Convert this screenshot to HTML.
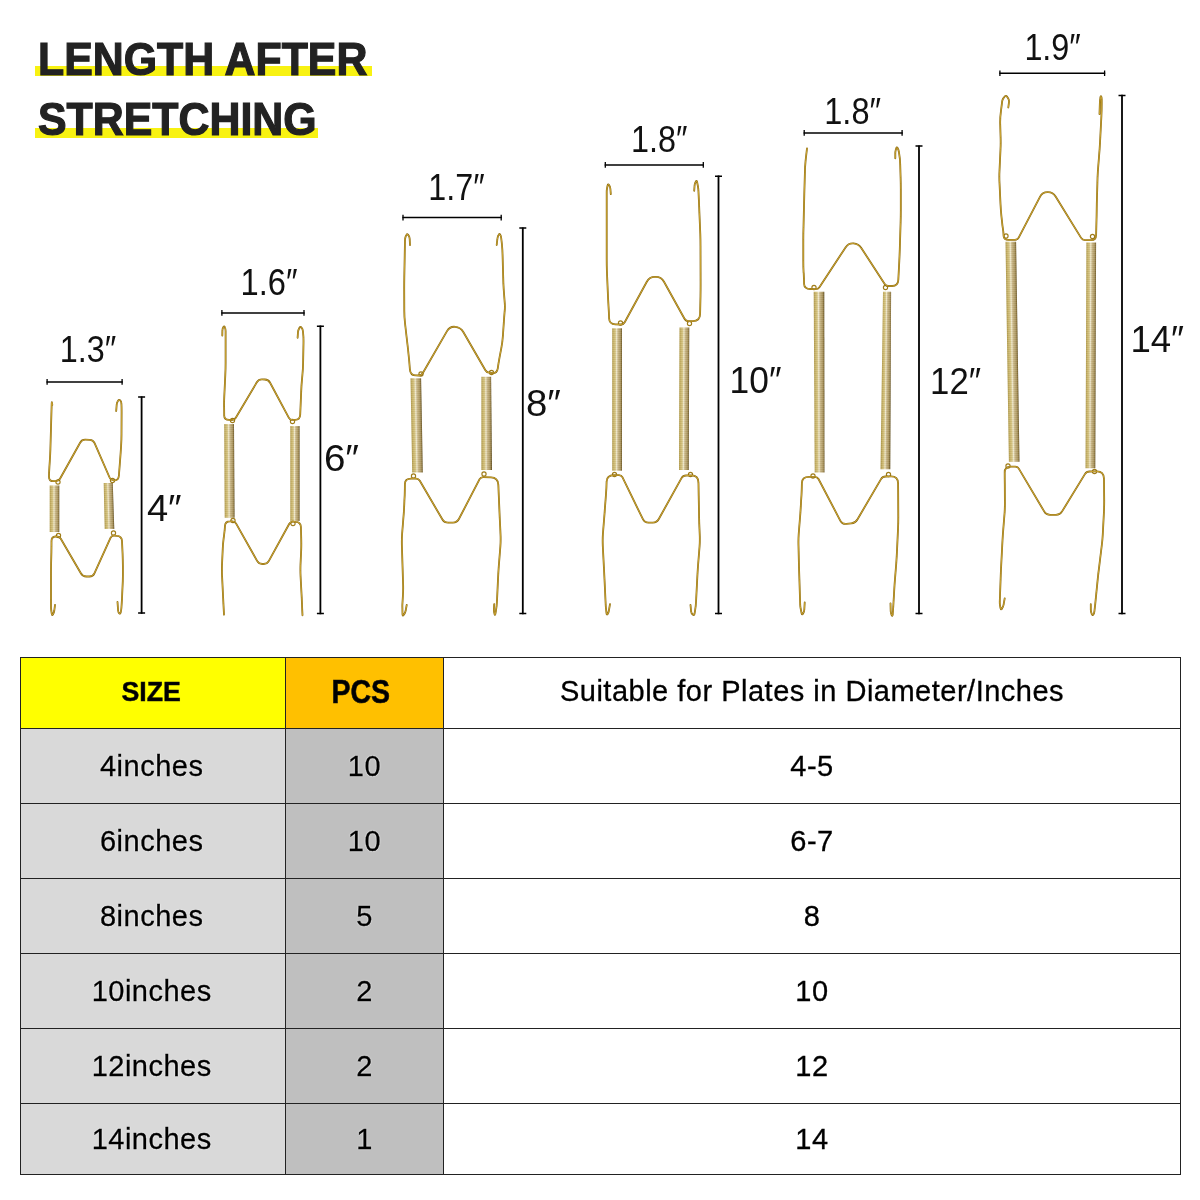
<!DOCTYPE html>
<html lang="en">
<head>
<meta charset="utf-8">
<title>Length After Stretching</title>
<style>
html,body{margin:0;padding:0;background:#fff;}
body{width:1200px;height:1200px;position:relative;overflow:hidden;font-family:"Liberation Sans",sans-serif;color:#111;}
#stage{position:absolute;left:0;top:0;width:1200px;height:1200px;}
.hl{position:absolute;background:#f8f212;}
.title{position:absolute;left:38px;transform:scaleX(0.912);margin:0;font-weight:bold;font-size:47px;line-height:1;color:#222;white-space:nowrap;transform-origin:0 0;-webkit-text-stroke:1.2px #222;}
svg#art{position:absolute;left:0;top:0;}
svg#art text{font-family:"Liberation Sans",sans-serif;fill:#111;}
table#t{position:absolute;left:20px;top:657px;width:1161px;border-collapse:collapse;table-layout:fixed;}
#t td,#t th{border:1px solid #222;padding:0;text-align:center;vertical-align:middle;font-weight:normal;font-size:29px;letter-spacing:.5px;color:#000;-webkit-text-stroke:.3px #000;height:74px;line-height:32px;}
#t tr.h th{height:70px;}
#t tr.last td{height:70px;}
#t td span,#t th span{display:inline-block;position:relative;}
#t .c1{background:#d9d9d9;text-shadow:0 0 1px #fff,0 0 2px #fff;}
#t .c1 span{left:-1.3px;}
#t .c2{background:#bfbfbf;text-shadow:0 0 1px #fff,0 0 2px #fff;}
#t th.s{background:#ffff00;font-weight:bold;font-size:28px;letter-spacing:0;}
#t th.s span{transform:scaleX(.955);-webkit-text-stroke:.5px #111;top:-1.5px;left:-1.4px;}
#t th.p{background:#ffc000;font-weight:bold;font-size:32.8px;letter-spacing:0;}
#t th.p span{transform:scaleX(.87);-webkit-text-stroke:.6px #111;top:-.7px;left:-3.3px;}
#t th.d span{top:-2px;}
</style>
</head>
<body>
<div id="stage">
<div class="hl" style="left:35px;top:66px;width:337px;height:10px"></div>
<div class="hl" style="left:35px;top:128px;width:283px;height:10px"></div>
<h1 class="title" id="t1" style="top:34.8px">LENGTH AFTER</h1>
<h1 class="title" id="t2" style="top:94.7px">STRETCHING</h1>

<svg id="art" width="1200" height="650" viewBox="0 0 1200 650">
<defs>
<linearGradient id="sg" x1="0" x2="1" y1="0" y2="0"><stop offset="0" stop-color="#b09a4c"/><stop offset="0.14" stop-color="#c9b46a"/><stop offset="0.32" stop-color="#d6c584"/><stop offset="0.45" stop-color="#efe8cc"/><stop offset="0.58" stop-color="#cbb98a"/><stop offset="0.84" stop-color="#ab9660"/><stop offset="0.93" stop-color="#8a7440"/><stop offset="1" stop-color="#5e4c1c"/></linearGradient>
<pattern id="hatch" width="4" height="2" patternUnits="userSpaceOnUse"><rect x="0" y="0" width="4" height="1" fill="#fff" opacity="0.07"/><rect x="0" y="1" width="4" height="1" fill="#6b5a20" opacity="0.06"/></pattern>
</defs>
<g id="dims" stroke="#000" fill="none"><path d="M46.5 381.9H122.7" stroke-width="1.5"/><path d="M47.1 379.1V384.7M122.1 379.1V384.7" stroke-width="1.3"/><path d="M141.6 396.4V613.8" stroke-width="1.8"/><path d="M138.1 397.1H145.1M138.1 613.1H145.1" stroke-width="1.5"/><path d="M221.3 312.9H304.6" stroke-width="1.5"/><path d="M221.9 310.1V315.7M304.0 310.1V315.7" stroke-width="1.3"/><path d="M320.4 325.5V614.2" stroke-width="1.8"/><path d="M316.9 326.2H323.9M316.9 613.5H323.9" stroke-width="1.5"/><path d="M402.4 217.6H501.8" stroke-width="1.5"/><path d="M403.0 214.8V220.4M501.2 214.8V220.4" stroke-width="1.3"/><path d="M522.8 227.4V614.2" stroke-width="1.8"/><path d="M519.3 228.1H526.3M519.3 613.5H526.3" stroke-width="1.5"/><path d="M604.7 164.9H703.9" stroke-width="1.5"/><path d="M605.3 162.1V167.7M703.3 162.1V167.7" stroke-width="1.3"/><path d="M718.5 175.5V614.2" stroke-width="1.8"/><path d="M715.0 176.2H722.0M715.0 613.5H722.0" stroke-width="1.5"/><path d="M803.6 132.9H902.7" stroke-width="1.5"/><path d="M804.2 130.1V135.7M902.1 130.1V135.7" stroke-width="1.3"/><path d="M919.0 145.4V614.2" stroke-width="1.8"/><path d="M915.5 146.1H922.5M915.5 613.5H922.5" stroke-width="1.5"/><path d="M999.3 73.2H1105.2" stroke-width="1.5"/><path d="M999.9 70.4V76.0M1104.6 70.4V76.0" stroke-width="1.3"/><path d="M1122.0 94.7V614.2" stroke-width="1.8"/><path d="M1118.5 95.4H1125.5M1118.5 613.5H1125.5" stroke-width="1.5"/></g>
<g id="labels"><text x="59.7" y="361.9" font-size="36" textLength="56.4" lengthAdjust="spacingAndGlyphs">1.3″</text><text x="240.6" y="294.7" font-size="36" textLength="57.0" lengthAdjust="spacingAndGlyphs">1.6″</text><text x="428.3" y="199.6" font-size="36" textLength="56.3" lengthAdjust="spacingAndGlyphs">1.7″</text><text x="631.0" y="151.6" font-size="36" textLength="56.4" lengthAdjust="spacingAndGlyphs">1.8″</text><text x="824.3" y="124.0" font-size="36" textLength="56.7" lengthAdjust="spacingAndGlyphs">1.8″</text><text x="1024.4" y="59.7" font-size="36" textLength="56.4" lengthAdjust="spacingAndGlyphs">1.9″</text><text x="146.9" y="521.4" font-size="36" textLength="34.7" lengthAdjust="spacingAndGlyphs">4″</text><text x="323.9" y="471.4" font-size="36" textLength="35.1" lengthAdjust="spacingAndGlyphs">6″</text><text x="525.9" y="416.1" font-size="36" textLength="34.9" lengthAdjust="spacingAndGlyphs">8″</text><text x="729.6" y="393.2" font-size="36" textLength="51.8" lengthAdjust="spacingAndGlyphs">10″</text><text x="930.1" y="393.8" font-size="36" textLength="50.9" lengthAdjust="spacingAndGlyphs">12″</text><text x="1130.4" y="352.0" font-size="36" textLength="53.6" lengthAdjust="spacingAndGlyphs">14″</text></g>
<defs><linearGradient id="sg1_0" href="#sg" gradientUnits="userSpaceOnUse" x1="49.70" y1="508.75" x2="59.30" y2="508.75"/><linearGradient id="sg1_1" href="#sg" gradientUnits="userSpaceOnUse" x1="104.20" y1="506.13" x2="113.55" y2="505.87"/><linearGradient id="sg2_0" href="#sg" gradientUnits="userSpaceOnUse" x1="224.45" y1="470.88" x2="234.30" y2="470.82"/><linearGradient id="sg2_1" href="#sg" gradientUnits="userSpaceOnUse" x1="290.30" y1="473.50" x2="299.60" y2="473.50"/><linearGradient id="sg3_0" href="#sg" gradientUnits="userSpaceOnUse" x1="411.35" y1="425.50" x2="421.95" y2="425.30"/><linearGradient id="sg3_1" href="#sg" gradientUnits="userSpaceOnUse" x1="481.40" y1="423.37" x2="491.55" y2="423.33"/><linearGradient id="sg4_0" href="#sg" gradientUnits="userSpaceOnUse" x1="612.20" y1="399.55" x2="622.00" y2="399.55"/><linearGradient id="sg4_1" href="#sg" gradientUnits="userSpaceOnUse" x1="679.25" y1="398.73" x2="689.05" y2="398.77"/><linearGradient id="sg5_0" href="#sg" gradientUnits="userSpaceOnUse" x1="814.20" y1="382.12" x2="824.40" y2="382.08"/><linearGradient id="sg5_1" href="#sg" gradientUnits="userSpaceOnUse" x1="881.75" y1="380.41" x2="890.70" y2="380.49"/><linearGradient id="sg6_0" href="#sg" gradientUnits="userSpaceOnUse" x1="1007.20" y1="351.78" x2="1017.80" y2="351.62"/><linearGradient id="sg6_1" href="#sg" gradientUnits="userSpaceOnUse" x1="1085.95" y1="355.38" x2="1095.70" y2="355.42"/></defs>
<g id="hangers"><path d="M49.7 485.5L59.3 485.5Q59.3 508.8 59.3 532.0L49.7 532.0Q49.7 508.8 49.7 485.5Z" fill="url(#sg1_0)"/><path d="M49.7 485.5L59.3 485.5Q59.3 508.8 59.3 532.0L49.7 532.0Q49.7 508.8 49.7 485.5Z" fill="url(#hatch)"/><path d="M103.7 483.0L112.8 483.0Q113.5 506.0 114.3 529.0L104.7 529.0Q104.2 506.0 103.7 483.0Z" fill="url(#sg1_1)"/><path d="M103.7 483.0L112.8 483.0Q113.5 506.0 114.3 529.0L104.7 529.0Q104.2 506.0 103.7 483.0Z" fill="url(#hatch)"/><circle cx="58.0" cy="482.0" r="2.1" fill="none" stroke="#a07d1a" stroke-width="1.15"/><circle cx="112.5" cy="480.5" r="2.1" fill="none" stroke="#a07d1a" stroke-width="1.15"/><circle cx="58.5" cy="535.5" r="2.1" fill="none" stroke="#a07d1a" stroke-width="1.15"/><circle cx="113.5" cy="533.0" r="2.1" fill="none" stroke="#a07d1a" stroke-width="1.15"/><path d="M52.3 405.0L52.0 403.1Q51.8 401.3 51.7 403.3L50.4 449.0Q50.2 455.0 49.8 461.0L49.4 467.0Q49.0 473.0 49.0 477.1L49.0 477.1Q49.0 481.3 53.5 481.2L56.3 481.1Q58.8 481.0 60.0 478.8L80.1 442.7Q81.8 439.6 85.3 439.7L89.7 439.8Q93.2 439.9 94.6 443.1L109.8 478.0Q110.8 480.3 113.3 480.4L114.7 480.4Q118.5 480.5 118.9 475.5L119.8 464.0Q120.3 458.0 120.7 452.0L121.1 446.0Q121.5 440.0 121.5 434.0L121.6 412.0Q121.6 406.0 121.4 403.8L121.4 403.5Q121.3 401.5 120.2 400.4L120.2 400.4Q119.0 399.2 117.9 400.9L117.9 400.9Q116.8 402.5 116.7 404.5L116.2 411.0" fill="none" stroke="#86640a" stroke-width="1.8" stroke-linecap="round" stroke-linejoin="round"/><path d="M52.3 405.0L52.0 403.1Q51.8 401.3 51.7 403.3L50.4 449.0Q50.2 455.0 49.8 461.0L49.4 467.0Q49.0 473.0 49.0 477.1L49.0 477.1Q49.0 481.3 53.5 481.2L56.3 481.1Q58.8 481.0 60.0 478.8L80.1 442.7Q81.8 439.6 85.3 439.7L89.7 439.8Q93.2 439.9 94.6 443.1L109.8 478.0Q110.8 480.3 113.3 480.4L114.7 480.4Q118.5 480.5 118.9 475.5L119.8 464.0Q120.3 458.0 120.7 452.0L121.1 446.0Q121.5 440.0 121.5 434.0L121.6 412.0Q121.6 406.0 121.4 403.8L121.4 403.5Q121.3 401.5 120.2 400.4L120.2 400.4Q119.0 399.2 117.9 400.9L117.9 400.9Q116.8 402.5 116.7 404.5L116.2 411.0" fill="none" stroke="#e0ba42" stroke-width="0.75" stroke-linecap="round" stroke-linejoin="round"/><path d="M55.0 605.0L54.3 610.5Q54.0 612.5 53.0 614.2L53.0 614.3Q52.0 616.0 51.8 614.0L51.2 610.0Q51.0 608.0 51.0 606.0L51.0 604.0Q51.0 600.0 51.0 594.0L51.0 576.0Q51.0 570.0 51.1 564.0L51.4 552.0Q51.5 546.0 51.5 541.3L51.5 541.1Q51.5 536.6 55.5 536.5L57.0 536.5Q59.5 536.5 60.8 538.7L81.0 573.5Q82.8 576.5 86.3 576.5L89.5 576.5Q93.0 576.5 94.4 573.3L110.5 537.8Q111.5 535.5 114.0 535.6L116.8 535.8Q121.8 536.0 122.0 541.0L122.6 554.0Q122.8 560.0 122.9 566.0L122.9 569.0Q123.0 575.0 122.8 581.0L122.2 594.0Q122.0 600.0 121.6 605.0L121.4 608.0Q121.2 610.0 120.8 612.0L120.7 612.3Q120.3 614.3 119.3 613.4L119.3 613.4Q118.3 612.5 118.1 610.5L117.5 602.0" fill="none" stroke="#86640a" stroke-width="1.8" stroke-linecap="round" stroke-linejoin="round"/><path d="M55.0 605.0L54.3 610.5Q54.0 612.5 53.0 614.2L53.0 614.3Q52.0 616.0 51.8 614.0L51.2 610.0Q51.0 608.0 51.0 606.0L51.0 604.0Q51.0 600.0 51.0 594.0L51.0 576.0Q51.0 570.0 51.1 564.0L51.4 552.0Q51.5 546.0 51.5 541.3L51.5 541.1Q51.5 536.6 55.5 536.5L57.0 536.5Q59.5 536.5 60.8 538.7L81.0 573.5Q82.8 576.5 86.3 576.5L89.5 576.5Q93.0 576.5 94.4 573.3L110.5 537.8Q111.5 535.5 114.0 535.6L116.8 535.8Q121.8 536.0 122.0 541.0L122.6 554.0Q122.8 560.0 122.9 566.0L122.9 569.0Q123.0 575.0 122.8 581.0L122.2 594.0Q122.0 600.0 121.6 605.0L121.4 608.0Q121.2 610.0 120.8 612.0L120.7 612.3Q120.3 614.3 119.3 613.4L119.3 613.4Q118.3 612.5 118.1 610.5L117.5 602.0" fill="none" stroke="#e0ba42" stroke-width="0.75" stroke-linecap="round" stroke-linejoin="round"/><path d="M224.2 423.9L234.0 423.9Q234.3 470.8 234.6 517.8L224.7 517.8Q224.4 470.8 224.2 423.9Z" fill="url(#sg2_0)"/><path d="M224.2 423.9L234.0 423.9Q234.3 470.8 234.6 517.8L224.7 517.8Q224.4 470.8 224.2 423.9Z" fill="url(#hatch)"/><path d="M290.3 426.0L299.6 426.0Q299.6 473.5 299.6 521.0L290.3 521.0Q290.3 473.5 290.3 426.0Z" fill="url(#sg2_1)"/><path d="M290.3 426.0L299.6 426.0Q299.6 473.5 299.6 521.0L290.3 521.0Q290.3 473.5 290.3 426.0Z" fill="url(#hatch)"/><circle cx="232.5" cy="420.5" r="2.1" fill="none" stroke="#a07d1a" stroke-width="1.15"/><circle cx="292.5" cy="421.5" r="2.1" fill="none" stroke="#a07d1a" stroke-width="1.15"/><circle cx="233.0" cy="520.5" r="2.1" fill="none" stroke="#a07d1a" stroke-width="1.15"/><circle cx="293.0" cy="523.5" r="2.1" fill="none" stroke="#a07d1a" stroke-width="1.15"/><path d="M222.3 335.6L222.4 330.5Q222.5 328.5 223.4 327.1L223.4 327.1Q224.3 325.6 224.9 327.3L224.9 327.3Q225.6 329.0 225.6 331.0L225.6 363.0Q225.6 369.0 225.3 375.0L224.3 396.0Q224.0 402.0 224.1 406.5L224.1 406.5Q224.2 411.0 224.2 415.4L224.2 415.4Q224.2 419.8 229.2 419.9L232.0 420.0Q234.5 420.0 235.8 417.8L256.8 382.3Q258.6 379.3 262.1 379.4L264.9 379.5Q268.4 379.6 270.1 382.7L288.9 417.8Q290.1 420.0 292.6 419.9L295.1 419.9Q300.0 419.8 300.2 414.8L301.2 391.4Q301.4 385.4 302.0 379.4L302.4 375.0Q303.0 369.0 303.1 363.0L303.5 343.0Q303.6 337.0 303.1 333.0L302.9 331.0Q302.7 329.0 301.5 327.6L301.5 327.6Q300.3 326.2 299.3 328.0L299.2 328.2Q298.2 330.0 298.0 332.0L297.6 337.8" fill="none" stroke="#86640a" stroke-width="1.8" stroke-linecap="round" stroke-linejoin="round"/><path d="M222.3 335.6L222.4 330.5Q222.5 328.5 223.4 327.1L223.4 327.1Q224.3 325.6 224.9 327.3L224.9 327.3Q225.6 329.0 225.6 331.0L225.6 363.0Q225.6 369.0 225.3 375.0L224.3 396.0Q224.0 402.0 224.1 406.5L224.1 406.5Q224.2 411.0 224.2 415.4L224.2 415.4Q224.2 419.8 229.2 419.9L232.0 420.0Q234.5 420.0 235.8 417.8L256.8 382.3Q258.6 379.3 262.1 379.4L264.9 379.5Q268.4 379.6 270.1 382.7L288.9 417.8Q290.1 420.0 292.6 419.9L295.1 419.9Q300.0 419.8 300.2 414.8L301.2 391.4Q301.4 385.4 302.0 379.4L302.4 375.0Q303.0 369.0 303.1 363.0L303.5 343.0Q303.6 337.0 303.1 333.0L302.9 331.0Q302.7 329.0 301.5 327.6L301.5 327.6Q300.3 326.2 299.3 328.0L299.2 328.2Q298.2 330.0 298.0 332.0L297.6 337.8" fill="none" stroke="#e0ba42" stroke-width="0.75" stroke-linecap="round" stroke-linejoin="round"/><path d="M224.0 614.7L223.7 609.0Q223.4 603.3 223.1 597.3L222.1 576.8Q221.8 570.8 222.0 564.8L222.7 549.8Q222.9 543.8 223.7 537.9L224.0 535.9Q224.8 530.0 225.0 525.8L225.0 525.8Q225.2 521.5 230.0 521.4L232.3 521.3Q234.8 521.2 236.0 523.4L257.1 560.9Q258.8 564.0 262.3 564.0L263.7 564.0Q267.2 564.0 268.9 560.9L289.3 523.7Q290.5 521.5 293.0 521.6L295.8 521.8Q300.8 522.0 300.9 527.0L301.2 537.8Q301.4 543.8 301.2 549.8L300.5 564.8Q300.3 570.8 300.6 576.8L301.7 597.3Q302.0 603.3 302.2 609.3L302.5 615.3" fill="none" stroke="#86640a" stroke-width="1.8" stroke-linecap="round" stroke-linejoin="round"/><path d="M224.0 614.7L223.7 609.0Q223.4 603.3 223.1 597.3L222.1 576.8Q221.8 570.8 222.0 564.8L222.7 549.8Q222.9 543.8 223.7 537.9L224.0 535.9Q224.8 530.0 225.0 525.8L225.0 525.8Q225.2 521.5 230.0 521.4L232.3 521.3Q234.8 521.2 236.0 523.4L257.1 560.9Q258.8 564.0 262.3 564.0L263.7 564.0Q267.2 564.0 268.9 560.9L289.3 523.7Q290.5 521.5 293.0 521.6L295.8 521.8Q300.8 522.0 300.9 527.0L301.2 537.8Q301.4 543.8 301.2 549.8L300.5 564.8Q300.3 570.8 300.6 576.8L301.7 597.3Q302.0 603.3 302.2 609.3L302.5 615.3" fill="none" stroke="#e0ba42" stroke-width="0.75" stroke-linecap="round" stroke-linejoin="round"/><path d="M410.5 378.3L421.1 378.3Q422.0 425.4 422.8 472.5L412.2 472.5Q411.4 425.4 410.5 378.3Z" fill="url(#sg3_0)"/><path d="M410.5 378.3L421.1 378.3Q422.0 425.4 422.8 472.5L412.2 472.5Q411.4 425.4 410.5 378.3Z" fill="url(#hatch)"/><path d="M481.4 376.7L491.1 376.7Q491.6 423.4 492.0 470.0L481.4 470.0Q481.4 423.4 481.4 376.7Z" fill="url(#sg3_1)"/><path d="M481.4 376.7L491.1 376.7Q491.6 423.4 492.0 470.0L481.4 470.0Q481.4 423.4 481.4 376.7Z" fill="url(#hatch)"/><circle cx="421.0" cy="374.0" r="2.1" fill="none" stroke="#a07d1a" stroke-width="1.15"/><circle cx="491.5" cy="372.5" r="2.1" fill="none" stroke="#a07d1a" stroke-width="1.15"/><circle cx="413.5" cy="476.0" r="2.1" fill="none" stroke="#a07d1a" stroke-width="1.15"/><circle cx="484.0" cy="474.0" r="2.1" fill="none" stroke="#a07d1a" stroke-width="1.15"/><path d="M410.0 245.0L409.7 239.0Q409.6 237.0 408.5 235.3L408.1 234.9Q407.0 233.2 406.3 235.1L405.7 236.4Q405.0 238.3 405.0 240.3L404.3 277.0Q404.2 283.0 404.2 289.0L404.3 311.0Q404.3 317.0 405.0 323.0L406.6 337.0Q407.3 343.0 408.0 349.0L408.6 355.0Q409.3 361.0 409.7 367.0L409.9 369.3Q410.3 375.3 415.9 375.4L419.0 375.5Q421.5 375.5 422.7 373.3L447.0 331.1Q449.7 326.3 455.1 326.8L455.1 326.8Q460.6 327.2 463.3 332.0L485.4 370.3Q486.6 372.5 489.1 372.7L492.0 373.0Q497.0 373.5 497.7 368.6L497.8 368.2Q498.5 363.0 499.6 357.1L501.4 347.6Q502.5 341.7 502.9 335.7L503.8 322.7Q504.2 316.7 504.6 311.7L504.8 309.7Q505.0 306.7 504.8 303.7L503.7 289.3Q503.3 283.3 503.2 277.3L502.6 256.0Q502.5 250.0 501.9 244.0L501.2 238.0Q501.0 236.0 500.1 234.6L500.1 234.6Q499.2 233.2 498.5 235.1L498.2 235.6Q497.5 237.5 497.3 239.5L496.7 245.0" fill="none" stroke="#86640a" stroke-width="1.8" stroke-linecap="round" stroke-linejoin="round"/><path d="M410.0 245.0L409.7 239.0Q409.6 237.0 408.5 235.3L408.1 234.9Q407.0 233.2 406.3 235.1L405.7 236.4Q405.0 238.3 405.0 240.3L404.3 277.0Q404.2 283.0 404.2 289.0L404.3 311.0Q404.3 317.0 405.0 323.0L406.6 337.0Q407.3 343.0 408.0 349.0L408.6 355.0Q409.3 361.0 409.7 367.0L409.9 369.3Q410.3 375.3 415.9 375.4L419.0 375.5Q421.5 375.5 422.7 373.3L447.0 331.1Q449.7 326.3 455.1 326.8L455.1 326.8Q460.6 327.2 463.3 332.0L485.4 370.3Q486.6 372.5 489.1 372.7L492.0 373.0Q497.0 373.5 497.7 368.6L497.8 368.2Q498.5 363.0 499.6 357.1L501.4 347.6Q502.5 341.7 502.9 335.7L503.8 322.7Q504.2 316.7 504.6 311.7L504.8 309.7Q505.0 306.7 504.8 303.7L503.7 289.3Q503.3 283.3 503.2 277.3L502.6 256.0Q502.5 250.0 501.9 244.0L501.2 238.0Q501.0 236.0 500.1 234.6L500.1 234.6Q499.2 233.2 498.5 235.1L498.2 235.6Q497.5 237.5 497.3 239.5L496.7 245.0" fill="none" stroke="#e0ba42" stroke-width="0.75" stroke-linecap="round" stroke-linejoin="round"/><path d="M406.7 605.0L405.7 610.5Q405.3 612.5 404.2 614.2L403.7 614.8Q402.6 616.5 402.5 614.5L402.4 608.0Q402.3 606.0 402.4 604.0L402.9 596.0Q403.3 590.0 403.1 584.0L401.9 546.0Q401.7 540.0 402.1 534.0L403.8 512.7Q404.2 506.7 404.4 500.7L404.7 495.0Q404.9 489.0 404.9 483.9L404.9 483.9Q405.0 478.8 411.0 478.7L416.0 478.6Q418.5 478.5 419.8 480.7L442.3 519.3Q444.3 522.8 448.3 522.7L453.0 522.6Q457.0 522.5 458.9 519.0L479.6 479.2Q480.8 477.0 483.3 477.1L491.0 477.3Q498.0 477.5 498.3 484.5L498.4 486.0Q498.6 492.0 498.9 498.0L499.7 517.3Q500.0 523.3 500.3 529.3L500.5 534.0Q500.8 540.0 500.4 546.0L498.7 567.3Q498.3 573.3 498.0 579.3L497.0 600.7Q496.7 606.7 495.9 611.2L495.4 613.8Q495.0 615.8 494.5 613.9L494.3 612.9Q493.8 611.0 493.9 609.0L494.2 604.2" fill="none" stroke="#86640a" stroke-width="1.8" stroke-linecap="round" stroke-linejoin="round"/><path d="M406.7 605.0L405.7 610.5Q405.3 612.5 404.2 614.2L403.7 614.8Q402.6 616.5 402.5 614.5L402.4 608.0Q402.3 606.0 402.4 604.0L402.9 596.0Q403.3 590.0 403.1 584.0L401.9 546.0Q401.7 540.0 402.1 534.0L403.8 512.7Q404.2 506.7 404.4 500.7L404.7 495.0Q404.9 489.0 404.9 483.9L404.9 483.9Q405.0 478.8 411.0 478.7L416.0 478.6Q418.5 478.5 419.8 480.7L442.3 519.3Q444.3 522.8 448.3 522.7L453.0 522.6Q457.0 522.5 458.9 519.0L479.6 479.2Q480.8 477.0 483.3 477.1L491.0 477.3Q498.0 477.5 498.3 484.5L498.4 486.0Q498.6 492.0 498.9 498.0L499.7 517.3Q500.0 523.3 500.3 529.3L500.5 534.0Q500.8 540.0 500.4 546.0L498.7 567.3Q498.3 573.3 498.0 579.3L497.0 600.7Q496.7 606.7 495.9 611.2L495.4 613.8Q495.0 615.8 494.5 613.9L494.3 612.9Q493.8 611.0 493.9 609.0L494.2 604.2" fill="none" stroke="#e0ba42" stroke-width="0.75" stroke-linecap="round" stroke-linejoin="round"/><path d="M612.2 328.3L622.0 328.3Q622.0 399.6 622.0 470.8L612.2 470.8Q612.2 399.6 612.2 328.3Z" fill="url(#sg4_0)"/><path d="M612.2 328.3L622.0 328.3Q622.0 399.6 622.0 470.8L612.2 470.8Q612.2 399.6 612.2 328.3Z" fill="url(#hatch)"/><path d="M679.5 327.5L689.3 327.5Q689.0 398.8 688.8 470.0L679.0 470.0Q679.2 398.8 679.5 327.5Z" fill="url(#sg4_1)"/><path d="M679.5 327.5L689.3 327.5Q689.0 398.8 688.8 470.0L679.0 470.0Q679.2 398.8 679.5 327.5Z" fill="url(#hatch)"/><circle cx="620.5" cy="323.0" r="2.1" fill="none" stroke="#a07d1a" stroke-width="1.15"/><circle cx="689.5" cy="323.5" r="2.1" fill="none" stroke="#a07d1a" stroke-width="1.15"/><circle cx="614.5" cy="474.5" r="2.1" fill="none" stroke="#a07d1a" stroke-width="1.15"/><circle cx="690.5" cy="474.5" r="2.1" fill="none" stroke="#a07d1a" stroke-width="1.15"/><path d="M610.8 194.2L610.4 189.0Q610.3 187.0 609.2 185.3L609.1 185.2Q608.0 183.5 607.6 185.5L607.1 188.0Q606.7 190.0 606.7 192.0L606.7 259.0Q606.7 265.0 606.9 271.0L607.8 292.0Q608.0 298.0 608.4 304.0L608.5 306.0Q608.9 312.0 609.1 318.0L609.1 318.3Q609.3 324.3 615.3 324.4L621.0 324.5Q623.5 324.5 624.7 322.3L646.8 281.7Q649.4 276.9 654.9 276.9L655.8 276.9Q661.3 276.9 664.0 281.7L684.5 318.7Q686.0 321.3 689.0 321.2L693.0 321.1Q700.0 321.0 700.1 314.0L700.5 296.0Q700.6 290.0 700.6 284.0L700.5 246.0Q700.5 240.0 700.3 234.0L699.4 212.7Q699.2 206.7 698.9 200.7L698.4 190.3Q698.3 188.3 697.9 186.3L697.1 182.0Q696.7 180.0 695.7 181.7L695.7 181.7Q694.7 183.3 694.6 185.3L694.2 190.8" fill="none" stroke="#86640a" stroke-width="1.8" stroke-linecap="round" stroke-linejoin="round"/><path d="M610.8 194.2L610.4 189.0Q610.3 187.0 609.2 185.3L609.1 185.2Q608.0 183.5 607.6 185.5L607.1 188.0Q606.7 190.0 606.7 192.0L606.7 259.0Q606.7 265.0 606.9 271.0L607.8 292.0Q608.0 298.0 608.4 304.0L608.5 306.0Q608.9 312.0 609.1 318.0L609.1 318.3Q609.3 324.3 615.3 324.4L621.0 324.5Q623.5 324.5 624.7 322.3L646.8 281.7Q649.4 276.9 654.9 276.9L655.8 276.9Q661.3 276.9 664.0 281.7L684.5 318.7Q686.0 321.3 689.0 321.2L693.0 321.1Q700.0 321.0 700.1 314.0L700.5 296.0Q700.6 290.0 700.6 284.0L700.5 246.0Q700.5 240.0 700.3 234.0L699.4 212.7Q699.2 206.7 698.9 200.7L698.4 190.3Q698.3 188.3 697.9 186.3L697.1 182.0Q696.7 180.0 695.7 181.7L695.7 181.7Q694.7 183.3 694.6 185.3L694.2 190.8" fill="none" stroke="#e0ba42" stroke-width="0.75" stroke-linecap="round" stroke-linejoin="round"/><path d="M610.0 604.2L608.8 611.0Q608.5 613.0 607.6 614.1L607.6 614.1Q606.7 615.2 606.5 613.2L606.0 608.7Q605.8 606.7 605.7 604.7L604.5 579.3Q604.2 573.3 603.9 567.3L602.8 546.0Q602.5 540.0 602.9 534.0L604.6 512.7Q605.0 506.7 605.5 500.7L606.0 494.0Q606.5 488.0 606.6 482.0L606.6 481.6Q606.8 475.3 613.8 475.2L618.8 475.1Q621.3 475.0 622.4 477.2L642.9 519.2Q644.7 522.8 648.7 522.7L652.9 522.6Q656.9 522.5 658.8 519.0L681.5 478.1Q683.0 475.5 686.0 475.5L691.3 475.4Q698.3 475.3 698.4 482.3L698.5 484.0Q698.6 490.0 698.7 496.0L699.1 517.3Q699.2 523.3 699.5 529.3L699.7 534.0Q700.0 540.0 699.6 546.0L697.9 567.3Q697.5 573.3 697.2 579.3L696.1 600.7Q695.8 606.7 695.0 611.2L694.5 613.8Q694.2 615.8 692.8 614.5L692.8 614.5Q691.3 613.3 691.1 611.3L690.5 605.0" fill="none" stroke="#86640a" stroke-width="1.8" stroke-linecap="round" stroke-linejoin="round"/><path d="M610.0 604.2L608.8 611.0Q608.5 613.0 607.6 614.1L607.6 614.1Q606.7 615.2 606.5 613.2L606.0 608.7Q605.8 606.7 605.7 604.7L604.5 579.3Q604.2 573.3 603.9 567.3L602.8 546.0Q602.5 540.0 602.9 534.0L604.6 512.7Q605.0 506.7 605.5 500.7L606.0 494.0Q606.5 488.0 606.6 482.0L606.6 481.6Q606.8 475.3 613.8 475.2L618.8 475.1Q621.3 475.0 622.4 477.2L642.9 519.2Q644.7 522.8 648.7 522.7L652.9 522.6Q656.9 522.5 658.8 519.0L681.5 478.1Q683.0 475.5 686.0 475.5L691.3 475.4Q698.3 475.3 698.4 482.3L698.5 484.0Q698.6 490.0 698.7 496.0L699.1 517.3Q699.2 523.3 699.5 529.3L699.7 534.0Q700.0 540.0 699.6 546.0L697.9 567.3Q697.5 573.3 697.2 579.3L696.1 600.7Q695.8 606.7 695.0 611.2L694.5 613.8Q694.2 615.8 692.8 614.5L692.8 614.5Q691.3 613.3 691.1 611.3L690.5 605.0" fill="none" stroke="#e0ba42" stroke-width="0.75" stroke-linecap="round" stroke-linejoin="round"/><path d="M813.7 291.7L824.3 291.7Q824.4 382.1 824.5 472.5L814.7 472.5Q814.2 382.1 813.7 291.7Z" fill="url(#sg5_0)"/><path d="M813.7 291.7L824.3 291.7Q824.4 382.1 824.5 472.5L814.7 472.5Q814.2 382.1 813.7 291.7Z" fill="url(#hatch)"/><path d="M883.0 291.7L891.1 291.7Q890.7 380.4 890.3 469.2L880.5 469.2Q881.8 380.4 883.0 291.7Z" fill="url(#sg5_1)"/><path d="M883.0 291.7L891.1 291.7Q890.7 380.4 890.3 469.2L880.5 469.2Q881.8 380.4 883.0 291.7Z" fill="url(#hatch)"/><circle cx="814.0" cy="287.5" r="2.1" fill="none" stroke="#a07d1a" stroke-width="1.15"/><circle cx="885.5" cy="287.5" r="2.1" fill="none" stroke="#a07d1a" stroke-width="1.15"/><circle cx="813.0" cy="476.0" r="2.1" fill="none" stroke="#a07d1a" stroke-width="1.15"/><circle cx="888.5" cy="474.5" r="2.1" fill="none" stroke="#a07d1a" stroke-width="1.15"/><path d="M807.0 148.3L805.6 160.7Q805.0 166.7 804.9 172.7L804.3 194.0Q804.2 200.0 804.0 206.0L803.5 227.3Q803.3 233.3 803.3 239.3L803.3 260.7Q803.3 266.7 803.6 272.7L803.7 273.0Q804.0 279.0 804.1 283.9L804.1 283.9Q804.3 288.8 810.3 289.0L815.5 289.2Q818.0 289.3 819.4 287.2L845.7 247.2Q848.5 243.0 853.5 243.4L853.6 243.4Q858.6 243.8 861.3 248.0L884.7 283.9Q886.1 286.0 888.6 286.0L892.1 286.0Q898.0 286.0 898.3 280.0L899.3 261.0Q899.6 255.0 899.8 249.0L900.6 222.7Q900.8 216.7 900.8 210.7L900.8 189.3Q900.8 183.3 900.6 177.3L900.2 164.3Q900.0 158.3 899.2 153.9L898.8 151.5Q898.5 149.5 897.6 148.0L897.6 148.0Q896.7 146.5 896.2 148.4L895.8 149.8Q895.3 151.7 895.3 153.7L895.3 158.3" fill="none" stroke="#86640a" stroke-width="1.8" stroke-linecap="round" stroke-linejoin="round"/><path d="M807.0 148.3L805.6 160.7Q805.0 166.7 804.9 172.7L804.3 194.0Q804.2 200.0 804.0 206.0L803.5 227.3Q803.3 233.3 803.3 239.3L803.3 260.7Q803.3 266.7 803.6 272.7L803.7 273.0Q804.0 279.0 804.1 283.9L804.1 283.9Q804.3 288.8 810.3 289.0L815.5 289.2Q818.0 289.3 819.4 287.2L845.7 247.2Q848.5 243.0 853.5 243.4L853.6 243.4Q858.6 243.8 861.3 248.0L884.7 283.9Q886.1 286.0 888.6 286.0L892.1 286.0Q898.0 286.0 898.3 280.0L899.3 261.0Q899.6 255.0 899.8 249.0L900.6 222.7Q900.8 216.7 900.8 210.7L900.8 189.3Q900.8 183.3 900.6 177.3L900.2 164.3Q900.0 158.3 899.2 153.9L898.8 151.5Q898.5 149.5 897.6 148.0L897.6 148.0Q896.7 146.5 896.2 148.4L895.8 149.8Q895.3 151.7 895.3 153.7L895.3 158.3" fill="none" stroke="#e0ba42" stroke-width="0.75" stroke-linecap="round" stroke-linejoin="round"/><path d="M804.7 602.5L804.3 609.7Q804.2 611.7 803.1 613.4L803.1 613.5Q802.0 615.2 801.6 613.2L800.7 608.7Q800.3 606.7 800.2 604.7L799.4 579.3Q799.2 573.3 799.0 567.3L798.5 546.0Q798.3 540.0 798.7 534.0L800.4 512.7Q800.8 506.7 801.1 500.7L801.5 495.0Q801.8 489.0 801.9 483.0L801.9 483.0Q802.0 477.0 809.0 476.9L814.8 476.8Q817.3 476.8 818.5 479.0L840.4 520.8Q842.3 524.3 846.3 523.9L851.4 523.4Q855.4 523.0 857.4 519.5L881.0 479.1Q882.5 476.5 885.5 476.5L891.0 476.4Q898.0 476.3 898.1 483.3L898.1 486.0Q898.2 492.0 898.2 498.0L898.3 517.3Q898.3 523.3 898.0 529.3L897.0 550.7Q896.7 556.7 896.3 562.7L894.6 584.0Q894.2 590.0 893.9 596.0L893.6 600.7Q893.3 606.7 892.9 611.7L892.7 614.7Q892.5 616.7 891.6 615.0L891.6 615.0Q890.8 613.3 890.7 611.3L890.5 603.3" fill="none" stroke="#86640a" stroke-width="1.8" stroke-linecap="round" stroke-linejoin="round"/><path d="M804.7 602.5L804.3 609.7Q804.2 611.7 803.1 613.4L803.1 613.5Q802.0 615.2 801.6 613.2L800.7 608.7Q800.3 606.7 800.2 604.7L799.4 579.3Q799.2 573.3 799.0 567.3L798.5 546.0Q798.3 540.0 798.7 534.0L800.4 512.7Q800.8 506.7 801.1 500.7L801.5 495.0Q801.8 489.0 801.9 483.0L801.9 483.0Q802.0 477.0 809.0 476.9L814.8 476.8Q817.3 476.8 818.5 479.0L840.4 520.8Q842.3 524.3 846.3 523.9L851.4 523.4Q855.4 523.0 857.4 519.5L881.0 479.1Q882.5 476.5 885.5 476.5L891.0 476.4Q898.0 476.3 898.1 483.3L898.1 486.0Q898.2 492.0 898.2 498.0L898.3 517.3Q898.3 523.3 898.0 529.3L897.0 550.7Q896.7 556.7 896.3 562.7L894.6 584.0Q894.2 590.0 893.9 596.0L893.6 600.7Q893.3 606.7 892.9 611.7L892.7 614.7Q892.5 616.7 891.6 615.0L891.6 615.0Q890.8 613.3 890.7 611.3L890.5 603.3" fill="none" stroke="#e0ba42" stroke-width="0.75" stroke-linecap="round" stroke-linejoin="round"/><path d="M1005.5 241.7L1016.1 241.7Q1017.8 351.7 1019.5 461.7L1008.9 461.7Q1007.2 351.7 1005.5 241.7Z" fill="url(#sg6_0)"/><path d="M1005.5 241.7L1016.1 241.7Q1017.8 351.7 1019.5 461.7L1008.9 461.7Q1007.2 351.7 1005.5 241.7Z" fill="url(#hatch)"/><path d="M1086.4 242.5L1096.1 242.5Q1095.7 355.4 1095.3 468.3L1085.5 468.3Q1086.0 355.4 1086.4 242.5Z" fill="url(#sg6_1)"/><path d="M1086.4 242.5L1096.1 242.5Q1095.7 355.4 1095.3 468.3L1085.5 468.3Q1086.0 355.4 1086.4 242.5Z" fill="url(#hatch)"/><circle cx="1006.0" cy="236.0" r="2.1" fill="none" stroke="#a07d1a" stroke-width="1.15"/><circle cx="1092.5" cy="236.5" r="2.1" fill="none" stroke="#a07d1a" stroke-width="1.15"/><circle cx="1008.0" cy="466.0" r="2.1" fill="none" stroke="#a07d1a" stroke-width="1.15"/><circle cx="1094.5" cy="471.5" r="2.1" fill="none" stroke="#a07d1a" stroke-width="1.15"/><path d="M1008.3 107.5L1009.0 102.0Q1009.2 100.0 1008.1 98.3L1007.1 96.7Q1006.0 95.0 1004.7 96.5L1003.8 97.7Q1002.5 99.2 1002.2 101.2L1000.8 112.4Q1000.0 118.3 1000.2 124.3L1000.6 137.3Q1000.8 143.3 1000.5 149.3L999.5 170.7Q999.2 176.7 999.5 182.7L1000.5 204.0Q1000.8 210.0 1001.4 216.0L1001.9 220.7Q1002.5 226.7 1003.0 229.3L1003.0 229.3Q1003.5 232.0 1003.6 236.0L1003.6 236.0Q1003.8 240.0 1008.8 239.9L1015.0 239.8Q1017.5 239.8 1018.7 237.6L1040.1 196.6Q1042.4 192.2 1047.4 192.2L1048.0 192.2Q1053.0 192.2 1055.6 196.5L1081.1 237.9Q1082.4 240.0 1084.9 240.1L1091.0 240.2Q1096.0 240.3 1096.1 235.3L1096.6 216.0Q1096.7 210.0 1096.8 204.0L1097.4 182.7Q1097.5 176.7 1097.9 170.7L1099.6 149.3Q1100.0 143.3 1100.3 137.3L1101.4 116.0Q1101.7 110.0 1101.7 104.0L1101.7 99.5Q1101.7 97.5 1101.2 96.5L1101.2 96.5Q1100.8 95.5 1100.4 97.5L1100.4 98.0Q1100.0 100.0 1099.9 102.0L1099.5 114.0" fill="none" stroke="#86640a" stroke-width="1.8" stroke-linecap="round" stroke-linejoin="round"/><path d="M1008.3 107.5L1009.0 102.0Q1009.2 100.0 1008.1 98.3L1007.1 96.7Q1006.0 95.0 1004.7 96.5L1003.8 97.7Q1002.5 99.2 1002.2 101.2L1000.8 112.4Q1000.0 118.3 1000.2 124.3L1000.6 137.3Q1000.8 143.3 1000.5 149.3L999.5 170.7Q999.2 176.7 999.5 182.7L1000.5 204.0Q1000.8 210.0 1001.4 216.0L1001.9 220.7Q1002.5 226.7 1003.0 229.3L1003.0 229.3Q1003.5 232.0 1003.6 236.0L1003.6 236.0Q1003.8 240.0 1008.8 239.9L1015.0 239.8Q1017.5 239.8 1018.7 237.6L1040.1 196.6Q1042.4 192.2 1047.4 192.2L1048.0 192.2Q1053.0 192.2 1055.6 196.5L1081.1 237.9Q1082.4 240.0 1084.9 240.1L1091.0 240.2Q1096.0 240.3 1096.1 235.3L1096.6 216.0Q1096.7 210.0 1096.8 204.0L1097.4 182.7Q1097.5 176.7 1097.9 170.7L1099.6 149.3Q1100.0 143.3 1100.3 137.3L1101.4 116.0Q1101.7 110.0 1101.7 104.0L1101.7 99.5Q1101.7 97.5 1101.2 96.5L1101.2 96.5Q1100.8 95.5 1100.4 97.5L1100.4 98.0Q1100.0 100.0 1099.9 102.0L1099.5 114.0" fill="none" stroke="#e0ba42" stroke-width="0.75" stroke-linecap="round" stroke-linejoin="round"/><path d="M1004.7 598.3L1003.6 604.7Q1003.3 606.7 1002.1 608.3L1002.0 608.6Q1000.8 610.2 1000.5 608.2L1000.0 605.3Q999.7 603.3 999.8 601.3L1000.6 579.3Q1000.8 573.3 1001.1 567.3L1002.2 546.0Q1002.5 540.0 1002.9 534.0L1004.6 512.7Q1005.0 506.7 1004.9 500.7L1004.8 484.0Q1004.7 478.0 1004.7 472.4L1004.7 472.4Q1004.7 466.8 1010.7 466.7L1015.0 466.6Q1017.5 466.5 1018.8 468.6L1044.3 511.6Q1046.3 515.0 1050.3 514.9L1056.0 514.9Q1060.0 514.8 1062.1 511.4L1084.9 474.1Q1086.5 471.5 1089.5 471.5L1096.8 471.4Q1103.8 471.3 1103.9 478.3L1104.0 480.0Q1104.1 486.0 1104.1 492.0L1104.2 500.7Q1104.2 506.7 1103.9 512.7L1102.8 534.0Q1102.5 540.0 1101.7 546.0L1099.1 567.3Q1098.3 573.3 1097.7 579.3L1096.4 592.3Q1095.8 598.3 1095.2 604.3L1094.4 611.3Q1094.2 613.3 1093.3 614.5L1093.3 614.5Q1092.5 615.8 1091.7 614.0L1091.6 613.5Q1090.8 611.7 1090.8 609.7L1090.8 604.2" fill="none" stroke="#86640a" stroke-width="1.8" stroke-linecap="round" stroke-linejoin="round"/><path d="M1004.7 598.3L1003.6 604.7Q1003.3 606.7 1002.1 608.3L1002.0 608.6Q1000.8 610.2 1000.5 608.2L1000.0 605.3Q999.7 603.3 999.8 601.3L1000.6 579.3Q1000.8 573.3 1001.1 567.3L1002.2 546.0Q1002.5 540.0 1002.9 534.0L1004.6 512.7Q1005.0 506.7 1004.9 500.7L1004.8 484.0Q1004.7 478.0 1004.7 472.4L1004.7 472.4Q1004.7 466.8 1010.7 466.7L1015.0 466.6Q1017.5 466.5 1018.8 468.6L1044.3 511.6Q1046.3 515.0 1050.3 514.9L1056.0 514.9Q1060.0 514.8 1062.1 511.4L1084.9 474.1Q1086.5 471.5 1089.5 471.5L1096.8 471.4Q1103.8 471.3 1103.9 478.3L1104.0 480.0Q1104.1 486.0 1104.1 492.0L1104.2 500.7Q1104.2 506.7 1103.9 512.7L1102.8 534.0Q1102.5 540.0 1101.7 546.0L1099.1 567.3Q1098.3 573.3 1097.7 579.3L1096.4 592.3Q1095.8 598.3 1095.2 604.3L1094.4 611.3Q1094.2 613.3 1093.3 614.5L1093.3 614.5Q1092.5 615.8 1091.7 614.0L1091.6 613.5Q1090.8 611.7 1090.8 609.7L1090.8 604.2" fill="none" stroke="#e0ba42" stroke-width="0.75" stroke-linecap="round" stroke-linejoin="round"/></g>
</svg>

<table id="t">
<colgroup><col style="width:265px"><col style="width:158px"><col style="width:737px"></colgroup>
<tr class="h"><th class="s"><span>SIZE</span></th><th class="p"><span>PCS</span></th><th class="d"><span>Suitable for Plates in Diameter/Inches</span></th></tr>
<tr><td class="c1"><span>4inches</span></td><td class="c2"><span>10</span></td><td><span>4-5</span></td></tr>
<tr><td class="c1"><span>6inches</span></td><td class="c2"><span>10</span></td><td><span>6-7</span></td></tr>
<tr><td class="c1"><span>8inches</span></td><td class="c2"><span>5</span></td><td><span>8</span></td></tr>
<tr><td class="c1"><span>10inches</span></td><td class="c2"><span>2</span></td><td><span>10</span></td></tr>
<tr><td class="c1"><span>12inches</span></td><td class="c2"><span>2</span></td><td><span>12</span></td></tr>
<tr class="last"><td class="c1"><span>14inches</span></td><td class="c2"><span>1</span></td><td><span>14</span></td></tr>
</table>
</div>
</body>
</html>
